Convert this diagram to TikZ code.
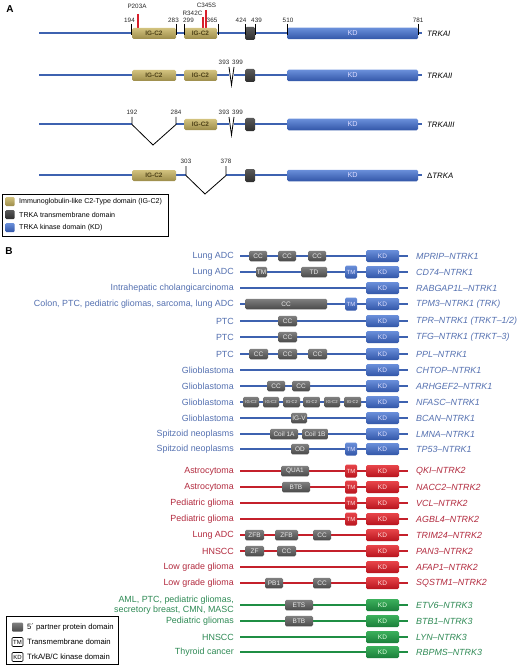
\documentclass[tikz,border=0pt]{standalone}
\usepackage{fontspec}
\setmainfont{Liberation Sans}
\definecolor{lnb}{HTML}{3E62B0}
\definecolor{lnr}{HTML}{C4202B}
\definecolor{lng}{HTML}{1F8E44}
\definecolor{txb}{HTML}{5470B0}
\definecolor{txr}{HTML}{B22A3E}
\definecolor{txg}{HTML}{2F8A55}
\definecolor{btop}{HTML}{6A8FDA}
\definecolor{bbot}{HTML}{3256A8}
\definecolor{rtop}{HTML}{E8454A}
\definecolor{rbot}{HTML}{B8141E}
\definecolor{gtop}{HTML}{3CB05C}
\definecolor{gbot}{HTML}{1A7F3A}
\definecolor{ktop}{HTML}{808080}
\definecolor{kbot}{HTML}{4A4A4A}
\definecolor{otop}{HTML}{D2C27E}
\definecolor{obot}{HTML}{9C8C4A}
\definecolor{otxt}{HTML}{4E4218}
\definecolor{mtop}{HTML}{5A5A5A}
\definecolor{mbot}{HTML}{2E2E2E}
\definecolor{mut}{HTML}{D8202C}
\tikzset{
  x=1pt,y=-1pt,
  bx/.style={inner sep=0pt, rounded corners=1.5pt, font=\fontsize{6.5}{7}\selectfont},
  igc/.style={bx, top color=otop, bottom color=obot, minimum height=11pt, text=otxt, font=\fontsize{6.4}{7}\selectfont\bfseries},
  tma/.style={bx, top color=mtop, bottom color=mbot, minimum height=13pt},
  kda/.style={bx, top color=btop, bottom color=bbot, minimum height=11.5pt, text=white!85!blue, font=\fontsize{7.2}{7.5}\selectfont},
  grey/.style={bx, top color=ktop, bottom color=kbot, minimum height=10.5pt, text=white!92!black},
  kdb/.style={bx, top color=btop, bottom color=bbot, minimum height=12pt, text=white!88!blue, font=\fontsize{6.5}{7}\selectfont},
  kdr/.style={bx, top color=rtop, bottom color=rbot, minimum height=12pt, text=white!88!red, font=\fontsize{6.5}{7}\selectfont},
  kdg/.style={bx, top color=gtop, bottom color=gbot, minimum height=12pt, text=white!88!green, font=\fontsize{6.5}{7}\selectfont},
  tmb/.style={kdb, minimum height=13pt, font=\fontsize{6}{6.5}\selectfont},
  tmr/.style={kdr, minimum height=13pt, font=\fontsize{6}{6.5}\selectfont},
  lineb/.style={line width=2.8pt, lnb},
  liner/.style={line width=2.8pt, lnr},
  lineg/.style={line width=2.8pt, lng},
  labb/.style={text=txb, font=\fontsize{8.9}{9.8}\selectfont, inner sep=0pt, align=right},
  labr/.style={text=txr, font=\fontsize{8.9}{9.8}\selectfont, inner sep=0pt, align=right},
  labg/.style={text=txg, font=\fontsize{8.9}{9.8}\selectfont, inner sep=0pt, align=right},
  geneb/.style={labb, font=\fontsize{8.9}{9.8}\selectfont\itshape},
  gener/.style={labr, font=\fontsize{8.9}{9.8}\selectfont\itshape},
  geneg/.style={labg, font=\fontsize{8.9}{9.8}\selectfont\itshape},
  aline/.style={line width=2.8pt, lnb},
  tick/.style={line width=0.8pt, black},
  num/.style={font=\fontsize{6.3}{6.5}\selectfont, inner sep=0pt, text=black!85},
  mutl/.style={line width=1.3pt, mut},
  agene/.style={font=\fontsize{7.8}{8.5}\selectfont\itshape, inner sep=0pt, anchor=west},
  legtxt/.style={font=\fontsize{7.1}{7.5}\selectfont, inner sep=0pt, anchor=west},
  legtxtb/.style={font=\fontsize{7.7}{8}\selectfont, inner sep=0pt, anchor=west},
  panel/.style={font=\fontsize{10}{11}\selectfont\bfseries, inner sep=0pt},
  legbox/.style={draw=black, line width=0.8pt, fill=white},
  oicon/.style={minimum width=9pt, minimum height=9pt, inner sep=0pt, rounded corners=1pt},
  licon/.style={draw=black, line width=0.6pt, rounded corners=1pt, inner sep=0.8pt, minimum width=11pt, minimum height=9pt, font=\fontsize{6}{6.5}\selectfont},
}
\newcommand\seg[6]{%
  \pgfmathsetmacro\segw{#4-#3}%
  \pgfmathsetmacro\segc{(#3+#4)/2}%
  \node[#1, minimum width=\segw pt] (#2) at (\segc,#5) {#6};}
\newcommand\brow[5]{%
  \coordinate (#1s) at (240,#2);
  \coordinate (#1e) at (408,#2);
  \draw[line#3] (#1s) -- (#1e);
  \node[lab#3, anchor=east] (#1l) at (234,#2) {#4};
  \node[gene#3, anchor=west] (#1g) at (416,#2) {#5};
  \seg{kd#3}{#1kd}{366}{399}{#2}{KD}}
\begin{document}
\begin{tikzpicture}
\useasboundingbox (0,0) rectangle (520,666);
% ---------------- Panel A ----------------
\node[panel] (pA) at (10,9) {A};
% Row 1 TRKAI
\coordinate (a1s) at (39,33); \coordinate (a1e) at (422,33);
\draw[aline] (a1s) -- (a1e);
\draw[mutl] (138,14) -- (138,28);
\draw[mutl] (203,17.5) -- (203,28);
\draw[mutl] (206,10) -- (206,28);
\seg{igc}{a1ig1}{132}{176}{33.5}{IG-C2}
\seg{igc}{a1ig2}{184}{217}{33.5}{IG-C2}
\seg{tma}{a1tm}{245}{255}{33.5}{}
\seg{kda}{a1kd}{287}{418}{33.5}{KD}
\foreach \t in {131,176,184,218,245,255,287,418} \draw[tick] (\t,24) -- (\t,35);
\node[num] (m1) at (137,6) {P203A};
\node[num] (m2) at (192.5,13.5) {R342C};
\node[num] (m3) at (206.5,5.5) {C345S};
\node[num] (n194) at (129.5,20.5) {194};
\node[num] (n283) at (173.5,20.5) {283};
\node[num] (n299) at (188.5,20.5) {299};
\node[num] (n365) at (212,20.5) {365};
\node[num] (n424) at (241,20.5) {424};
\node[num] (n439) at (256.5,20.5) {439};
\node[num] (n510) at (288,20.5) {510};
\node[num] (n781) at (418,20.5) {781};
\node[agene] (g1) at (427,33.5) {TRKAI};
% Row 2 TRKAII
\coordinate (a2s) at (39,75); \coordinate (a2v1) at (229,75);
\coordinate (a2v2) at (234,75); \coordinate (a2e) at (422,75);
\draw[aline] (a2s) -- (a2v1);
\draw[aline] (a2v2) -- (a2e);
\draw[tick] (229,67) -- (231.5,85) -- (234,67);
\seg{igc}{a2ig1}{132}{176}{75.5}{IG-C2}
\seg{igc}{a2ig2}{184}{217}{75.5}{IG-C2}
\seg{tma}{a2tm}{245}{255}{75.5}{}
\seg{kda}{a2kd}{287}{418}{75.5}{KD}
\node[num] (n393b) at (224,62) {393};
\node[num] (n399b) at (237.5,62) {399};
\node[agene] (g2) at (427,75.5) {TRKAII};
% Row 3 TRKAIII
\coordinate (a3s) at (39,124); \coordinate (a3c1) at (132,124);
\coordinate (a3c2) at (176,124); \coordinate (a3v1) at (229,124);
\coordinate (a3v2) at (234,124); \coordinate (a3e) at (422,124);
\draw[aline] (a3s) -- (a3c1);
\draw[aline] (a3c2) -- (a3v1);
\draw[aline] (a3v2) -- (a3e);
\draw[tick] (132,117) -- (132,124.5) -- (153,145) -- (176,124.5) -- (176,117);
\draw[tick] (229,117) -- (231.5,135) -- (234,117);
\seg{igc}{a3ig2}{184}{217}{124.5}{IG-C2}
\seg{tma}{a3tm}{245}{255}{124.5}{}
\seg{kda}{a3kd}{287}{418}{124.5}{KD}
\node[num] (n192) at (132,112) {192};
\node[num] (n284) at (176,112) {284};
\node[num] (n393c) at (224,112) {393};
\node[num] (n399c) at (237.5,112) {399};
\node[agene] (g3) at (427,124.5) {TRKAIII};
% Row 4 Delta TRKA
\coordinate (a4s) at (39,175); \coordinate (a4c1) at (186,175);
\coordinate (a4c2) at (226,175); \coordinate (a4e) at (422,175);
\draw[aline] (a4s) -- (a4c1);
\draw[aline] (a4c2) -- (a4e);
\draw[tick] (186,166) -- (186,175.5) -- (205,194) -- (226,175.5) -- (226,166);
\seg{igc}{a4ig1}{132}{176}{175.5}{IG-C2}
\seg{tma}{a4tm}{245}{255}{175.5}{}
\seg{kda}{a4kd}{287}{418}{175.5}{KD}
\node[num] (n303) at (186,161.5) {303};
\node[num] (n378) at (226,161.5) {378};
\node[agene] (g4) at (427,175.5) {{\upshape Δ}TRKA};
% Legend A
\draw[legbox] (2,194) rectangle (168,236.5);
\node[oicon, top color=otop, bottom color=obot] (la1) at (10,201.5) {};
\node[legtxt] (lt1) at (19,201.5) {Immunoglobulin-like C2-Type domain (IG-C2)};
\node[oicon, top color=mtop, bottom color=mbot] (la2) at (10,214.5) {};
\node[legtxt] (lt2) at (19,214.5) {TRKA transmembrane domain};
\node[oicon, top color=btop, bottom color=bbot] (la3) at (10,227.5) {};
\node[legtxt] (lt3) at (19,227.5) {TRKA kinase domain (KD)};
% ---------------- Panel B ----------------
\node[panel] (pB) at (9,251) {B};
\brow{r1}{256}{b}{Lung ADC}{MPRIP–NTRK1}
\seg{grey}{r1a}{249}{267}{256}{CC}
\seg{grey}{r1b}{278}{296}{256}{CC}
\seg{grey}{r1c}{308}{326}{256}{CC}
\brow{r2}{272}{b}{Lung ADC}{CD74–NTRK1}
\seg{grey}{r2a}{256}{267}{272}{TM}
\seg{grey}{r2b}{301}{327}{272}{TD}
\seg{tmb}{r2tm}{345}{357}{272}{TM}
\brow{r3}{288}{b}{Intrahepatic cholangicarcinoma}{RABGAP1L–NTRK1}
\brow{r4}{304}{b}{Colon, PTC, pediatric gliomas, sarcoma, lung ADC}{TPM3–NTRK1 (TRK)}
\seg{grey}{r4a}{245}{327}{304}{CC}
\seg{tmb}{r4tm}{345}{357}{304}{TM}
\brow{r5}{321}{b}{PTC}{TPR–NTRK1 (TRKT–1/2)}
\seg{grey}{r5a}{278}{297}{321}{CC}
\brow{r6}{337}{b}{PTC}{TFG–NTRK1 (TRKT–3)}
\seg{grey}{r6a}{278}{297}{337}{CC}
\brow{r7}{354}{b}{PTC}{PPL–NTRK1}
\seg{grey}{r7a}{249}{268}{354}{CC}
\seg{grey}{r7b}{278}{297}{354}{CC}
\seg{grey}{r7c}{308}{327}{354}{CC}
\brow{r8}{370}{b}{Glioblastoma}{CHTOP–NTRK1}
\brow{r9}{386}{b}{Glioblastoma}{ARHGEF2–NTRK1}
\seg{grey}{r9a}{267}{285}{386}{CC}
\seg{grey}{r9b}{292}{310}{386}{CC}
\brow{r10}{402}{b}{Glioblastoma}{NFASC–NTRK1}
\foreach \xa/\xb/\nm in {243/259/a,263/279/b,283/300/c,303/320/d,324/340/e,344/361/f}
  {\seg{grey,font=\fontsize{4.2}{4.5}\selectfont}{r10\nm}{\xa}{\xb}{402}{IG-C2}}
\brow{r11}{418}{b}{Glioblastoma}{BCAN–NTRK1}
\seg{grey}{r11a}{291}{307}{418}{IG-V}
\brow{r12}{434}{b}{Spitzoid neoplasms}{LMNA–NTRK1}
\seg{grey}{r12a}{270}{298}{434}{Coil 1A}
\seg{grey}{r12b}{302}{328}{434}{Coil 1B}
\brow{r13}{449}{b}{Spitzoid neoplasms}{TP53–NTRK1}
\seg{grey}{r13a}{291}{309}{449}{OD}
\seg{tmb}{r13tm}{345}{357}{449}{TM}
\brow{r14}{471}{r}{Astrocytoma}{QKI–NTRK2}
\seg{grey}{r14a}{281}{309}{471}{QUA1}
\seg{tmr}{r14tm}{345}{357}{471}{TM}
\brow{r15}{487}{r}{Astrocytoma}{NACC2–NTRK2}
\seg{grey}{r15a}{282}{310}{487}{BTB}
\seg{tmr}{r15tm}{345}{357}{487}{TM}
\brow{r16}{503}{r}{Pediatric glioma}{VCL–NTRK2}
\seg{tmr}{r16tm}{345}{357}{503}{TM}
\brow{r17}{519}{r}{Pediatric glioma}{AGBL4–NTRK2}
\seg{tmr}{r17tm}{345}{357}{519}{TM}
\brow{r18}{535}{r}{Lung ADC}{TRIM24–NTRK2}
\seg{grey}{r18a}{245}{264}{535}{ZFB}
\seg{grey}{r18b}{275}{298}{535}{ZFB}
\seg{grey}{r18c}{313}{331}{535}{CC}
\brow{r19}{551}{r}{HNSCC}{PAN3–NTRK2}
\seg{grey}{r19a}{245}{264}{551}{ZF}
\seg{grey}{r19b}{277}{296}{551}{CC}
\brow{r20}{567}{r}{Low grade glioma}{AFAP1–NTRK2}
\brow{r21}{583}{r}{Low grade glioma}{SQSTM1–NTRK2}
\seg{grey}{r21a}{265}{283}{583}{PB1}
\seg{grey}{r21b}{313}{331}{583}{CC}
\brow{r22}{605}{g}{AML, PTC, pediatric gliomas,\\secretory breast, CMN, MASC}{ETV6–NTRK3}
\seg{grey}{r22a}{285}{313}{605}{ETS}
\brow{r23}{621}{g}{Pediatric gliomas}{BTB1–NTRK3}
\seg{grey}{r23a}{285}{313}{621}{BTB}
\brow{r24}{637}{g}{HNSCC}{LYN–NTRK3}
\brow{r25}{652}{g}{Thyroid cancer}{RBPMS–NTRK3}
% Legend B
\draw[legbox] (6,616) rectangle (118,664.5);
\node[oicon, top color=ktop, bottom color=kbot, minimum width=11pt, minimum height=9pt] (lb1) at (17.5,627) {};
\node[legtxtb] (lbt1) at (27,627) {5´ partner protein domain};
\node[licon] (lb2) at (17.5,642) {TM};
\node[legtxtb] (lbt2) at (27,642) {Transmembrane domain};
\node[licon] (lb3) at (17.5,657) {KD};
\node[legtxtb] (lbt3) at (27,657) {TrkA/B/C kinase domain};
\end{tikzpicture}
\end{document}
